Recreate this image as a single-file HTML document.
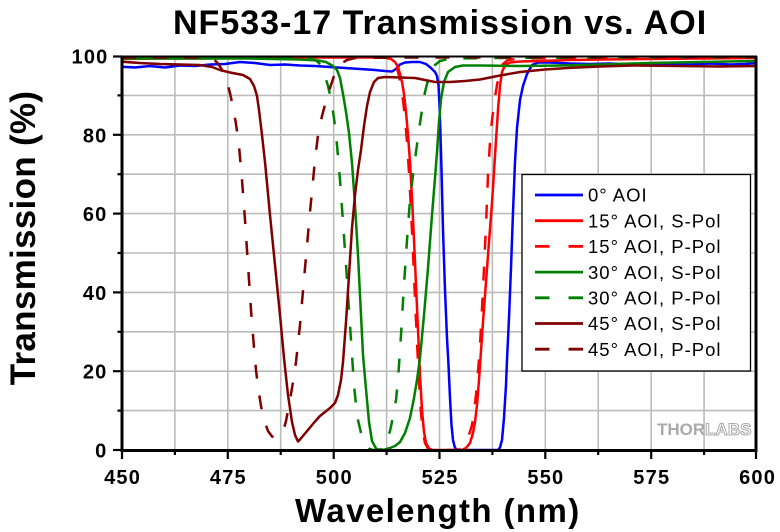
<!DOCTYPE html>
<html>
<head>
<meta charset="utf-8">
<style>
  html, body { margin:0; padding:0; background:#fff; }
  svg { display:block; }
  text { font-family: "Liberation Sans", Arial, sans-serif; }
</style>
</head>
<body>
<svg width="780" height="532" viewBox="0 0 780 532" xmlns="http://www.w3.org/2000/svg">
  <rect x="0" y="0" width="780" height="532" fill="#fff"/>

  <!-- Title -->
  <text x="173" y="34" font-size="34" font-weight="bold" letter-spacing="1.0" fill="#000">NF533-17 Transmission vs. AOI</text>

  <!-- Grid -->
  <g stroke="#bcbcbc" stroke-width="1.6">
    <line x1="174.9" y1="56" x2="174.9" y2="450"/>
    <line x1="227.8" y1="56" x2="227.8" y2="450"/>
    <line x1="280.7" y1="56" x2="280.7" y2="450"/>
    <line x1="333.7" y1="56" x2="333.7" y2="450"/>
    <line x1="386.6" y1="56" x2="386.6" y2="450"/>
    <line x1="439.5" y1="56" x2="439.5" y2="450"/>
    <line x1="492.4" y1="56" x2="492.4" y2="450"/>
    <line x1="545.3" y1="56" x2="545.3" y2="450"/>
    <line x1="598.2" y1="56" x2="598.2" y2="450"/>
    <line x1="651.2" y1="56" x2="651.2" y2="450"/>
    <line x1="704.1" y1="56" x2="704.1" y2="450"/>

    <line x1="122" y1="410.6" x2="757" y2="410.6"/>
    <line x1="122" y1="371.2" x2="757" y2="371.2"/>
    <line x1="122" y1="331.8" x2="757" y2="331.8"/>
    <line x1="122" y1="292.4" x2="757" y2="292.4"/>
    <line x1="122" y1="253" x2="757" y2="253"/>
    <line x1="122" y1="213.6" x2="757" y2="213.6"/>
    <line x1="122" y1="174.2" x2="757" y2="174.2"/>
    <line x1="122" y1="134.8" x2="757" y2="134.8"/>
    <line x1="122" y1="95.4" x2="757" y2="95.4"/>
  </g>

  <!-- THORLABS watermark -->
  <text x="657" y="435" font-size="17" font-weight="bold" fill="#aaaaaa">THOR<tspan fill="#fff" stroke="#aaaaaa" stroke-width="1">LABS</tspan></text>

  <!-- Curves -->
  <g fill="none" stroke-width="2.5" stroke-linejoin="round" stroke-linecap="butt">
    <!-- 0 deg AOI -->
    <polyline stroke="#0000ff" points="122,66.7 135,67.5 150,66 165,67.5 180,65.5 195,66 210,64.5 225,64 240,62 255,63 270,65 285,64.5 300,65.5 315,66 330,67 345,68 360,69 375,70 385,71 392,71.5 396,69 400,64.5 405,62.5 412,62 420,62 426,64 431,68 435,72 437,76 438.5,85 439.5,105 440.5,135 441.5,170 443,230 445,290 447,338 448.5,365 450,398 451.5,425 453,440 455,448 458,450 498,450 500,447.5 502,440 504,418 506,385 507,360 509,318 511,268 513,212 515,162 517,128 520,100 523,86 527,74 532,65 538,62.5 550,62.5 570,63.5 590,64 610,63.5 630,64.5 650,63.5 670,64 690,64.5 710,63.5 730,64.5 745,64 757,63"/>
    <!-- 15 S -->
    <polyline stroke="#ff0000" points="122,59 160,58.5 200,58.5 250,58 300,57.5 350,57.5 385,57.5 391,59 395,62 398,67 400,74 402,82 404,94 406,112 408,135 410,162 412,198 414,240 416,285 418,330 420,375 422,410 424,432 426,443 429,448.5 433,450 462,450 466,448 470,443 473,433 475,422 477,405 479,380 480.5,358 483,322 486,282 489,242 492,203 494,172 496,140 498,110 500,86 502,72 505,65 510,62.5 520,61.5 540,61 570,60 600,59.5 650,59 700,58.5 757,58"/>
    <!-- 15 P -->
    <polyline stroke="#ff0000" stroke-dasharray="14 17" points="122,57.5 200,57 300,57 385,57 390,58.5 394,62 397,68 399,76 401,87 403,100 405,118 407,142 409,172 411,210 413,252 415,298 417,342 419,382 421,413 423,433 425,443 428,448.5 432,450 458,450 462,448 466,443 469,435 472,425 474,412 476,395 478,372 480,345 483,290 486,225 488,175 490,142 492,120 495,97 497,85 500,71 503,64 508,60 520,58.5 560,58 650,57.5 757,57"/>
    <!-- 30 S -->
    <polyline stroke="#008000" points="122,58.5 200,58.5 250,58.5 300,59.5 318,60.5 326,62 333,66 337,70 340,78 343,94 346,112 349,133 352,163 355,205 358,255 361,315 363,355 365,378 367,400 369,422 372,441 376,448.5 380,450 385,449.5 390,448 395,446 400,442 405,433 410,418 414,398 417,380 420,358 424,315 428,268 432,215 435,178 437,152 439,122 441,99 444,82 448,72 455,67 463,65.5 480,65.5 520,66 560,65.5 600,64.5 650,63 700,62 757,61"/>
    <!-- 30 P -->
    <polyline stroke="#008000" stroke-dasharray="14 17" points="122,57.5 250,57.5 305,58 312,59 316,60.5 319,63 322,68 325,76 328,86 331,99 334,118 337,145 340,180 343,222 346,265 349,310 352,355 354,385 356,405 358,420 361,433 365,443 369,448.5 373,450 378,450 382,449 386,443 390,431 393,417 396,400 398,380 401,335 404,285 407,240 410,200 413,175 416,152 419,130 422,110 425,92 428,80 431,71 435,65 440,61 450,58.5 500,58 757,57"/>
    <!-- 45 S -->
    <polyline stroke="#800000" points="122,61.7 140,63 160,64 180,64.5 200,65 212,67 220,70 230,72.5 243,75 250,79 254,86 257,96 259,110 262,135 265,162 270,215 275,265 280,315 284,358 288,395 292,422 295,435 298,441.5 300,439.5 305,433.5 310,427.5 315,421.5 320,416 325,412 330,408 335,403 338,395 341,380 343,362 346,322 349,275 352,228 355,195 358,170 361,150 364,126 367,106 370,92 374,82 378,78 385,77 400,77.5 415,78 425,80 435,82 450,82 465,81 480,79.5 500,75.5 520,72 545,69.5 567,68 600,66.5 633,65.5 680,66 720,66.5 757,66"/>
    <!-- 45 P -->
    <polyline stroke="#800000" stroke-dasharray="14 17" points="122,57.5 205,57.5 211,58.5 215,60.5 218,63.5 221,68 224,74 227,82 230,93 233,107 236,124 239,146 242,180 245,220 248,265 251,310 254,348 256,370 258,387 261,406 264,420 268,431 272,436.5 276,437.5 280,435 283,432 286,421 290,400 293,382 296,362 300,325 305,268 310,212 315,160 318,135 322,116 326,101 330,88 334,76 338,68 342,63 347,60 355,58 400,57.5 757,57"/>
  </g>

  <!-- Frame / axes -->
  <line x1="122" y1="56.5" x2="757" y2="56.5" stroke="#000" stroke-width="2"/>
  <line x1="756" y1="56" x2="756" y2="451" stroke="#000" stroke-width="3"/>
  <line x1="122" y1="55.5" x2="122" y2="452" stroke="#000" stroke-width="3"/>
  <line x1="120.5" y1="450.5" x2="757.5" y2="450.5" stroke="#000" stroke-width="3"/>

  <!-- Y ticks -->
  <g stroke="#000" stroke-width="2.2">
    <line x1="113" y1="450" x2="122" y2="450"/>
    <line x1="113" y1="371.2" x2="122" y2="371.2"/>
    <line x1="113" y1="292.4" x2="122" y2="292.4"/>
    <line x1="113" y1="213.6" x2="122" y2="213.6"/>
    <line x1="113" y1="134.8" x2="122" y2="134.8"/>
    <line x1="113" y1="56.5" x2="122" y2="56.5"/>
    <line x1="117.5" y1="410.6" x2="122" y2="410.6"/>
    <line x1="117.5" y1="331.8" x2="122" y2="331.8"/>
    <line x1="117.5" y1="253" x2="122" y2="253"/>
    <line x1="117.5" y1="174.2" x2="122" y2="174.2"/>
    <line x1="117.5" y1="95.4" x2="122" y2="95.4"/>
  </g>
  <!-- X ticks -->
  <g stroke="#000" stroke-width="2.2">
    <line x1="122" y1="450" x2="122" y2="459"/>
    <line x1="227.8" y1="450" x2="227.8" y2="459"/>
    <line x1="333.7" y1="450" x2="333.7" y2="459"/>
    <line x1="439.5" y1="450" x2="439.5" y2="459"/>
    <line x1="545.3" y1="450" x2="545.3" y2="459"/>
    <line x1="651.2" y1="450" x2="651.2" y2="459"/>
    <line x1="756" y1="450" x2="756" y2="459"/>
    <line x1="174.9" y1="450" x2="174.9" y2="455"/>
    <line x1="280.7" y1="450" x2="280.7" y2="455"/>
    <line x1="386.6" y1="450" x2="386.6" y2="455"/>
    <line x1="492.4" y1="450" x2="492.4" y2="455"/>
    <line x1="598.2" y1="450" x2="598.2" y2="455"/>
    <line x1="704.1" y1="450" x2="704.1" y2="455"/>
  </g>

  <!-- Y tick labels -->
  <g font-size="20" font-weight="bold" letter-spacing="1.2" text-anchor="end" fill="#000">
    <text x="107.5" y="457.5">0</text>
    <text x="107.5" y="378.7">20</text>
    <text x="107.5" y="299.9">40</text>
    <text x="107.5" y="221.1">60</text>
    <text x="107.5" y="142.3">80</text>
    <text x="108.5" y="63.5">100</text>
  </g>
  <!-- X tick labels -->
  <g font-size="20" font-weight="bold" letter-spacing="1.2" text-anchor="middle" fill="#000">
    <text x="122.6" y="484">450</text>
    <text x="228.4" y="484">475</text>
    <text x="334.3" y="484">500</text>
    <text x="440.1" y="484">525</text>
    <text x="545.9" y="484">550</text>
    <text x="651.8" y="484">575</text>
    <text x="757.6" y="484">600</text>
  </g>

  <!-- Axis titles -->
  <text x="295" y="522" font-size="33" font-weight="bold" letter-spacing="1.4" fill="#000">Wavelength (nm)</text>
  <text transform="translate(35,238) rotate(-90)" x="0" y="0" font-size="35" font-weight="bold" letter-spacing="0.3" text-anchor="middle" fill="#000">Transmission (%)</text>

  <!-- Legend -->
  <rect x="522" y="174.5" width="228.5" height="196.5" fill="#fff" stroke="#000" stroke-width="1.3"/>
  <g stroke-width="2.8">
    <line x1="535" y1="195" x2="583" y2="195" stroke="#0000ff"/>
    <line x1="535" y1="220.7" x2="583" y2="220.7" stroke="#ff0000"/>
    <line x1="535" y1="246.4" x2="583" y2="246.4" stroke="#ff0000" stroke-dasharray="14.5 19"/>
    <line x1="535" y1="272.1" x2="583" y2="272.1" stroke="#008000"/>
    <line x1="535" y1="297.8" x2="583" y2="297.8" stroke="#008000" stroke-dasharray="14.5 19"/>
    <line x1="535" y1="323.5" x2="583" y2="323.5" stroke="#800000"/>
    <line x1="535" y1="349.2" x2="583" y2="349.2" stroke="#800000" stroke-dasharray="14.5 19"/>
  </g>
  <g font-size="18.5" letter-spacing="1" fill="#000">
    <text x="588" y="201.7">0° AOI</text>
    <text x="588" y="227.4">15° AOI, S-Pol</text>
    <text x="588" y="253.1">15° AOI, P-Pol</text>
    <text x="588" y="278.8">30° AOI, S-Pol</text>
    <text x="588" y="304.5">30° AOI, P-Pol</text>
    <text x="588" y="330.2">45° AOI, S-Pol</text>
    <text x="588" y="355.9">45° AOI, P-Pol</text>
  </g>
</svg>
</body>
</html>
